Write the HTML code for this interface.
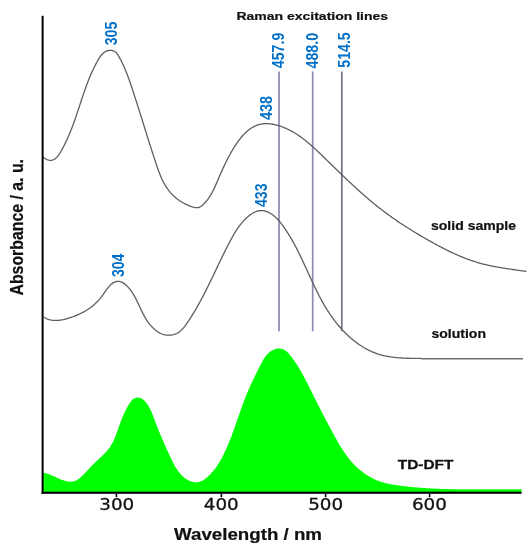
<!DOCTYPE html>
<html><head><meta charset="utf-8"><title>Absorbance spectra</title>
<style>html,body{margin:0;padding:0;background:#fff;width:532px;height:550px;overflow:hidden}svg{display:block}</style>
</head><body>
<svg width="532" height="550" viewBox="0 0 532 550"><path d="M43.15,472.76 L44.19,472.90 L45.24,473.11 L46.32,473.39 L47.41,473.72 L48.52,474.10 L49.65,474.53 L50.79,474.99 L51.95,475.48 L53.11,475.99 L54.29,476.52 L55.47,477.06 L56.66,477.60 L57.85,478.14 L59.04,478.66 L60.24,479.17 L61.43,479.65 L62.62,480.09 L63.81,480.50 L64.98,480.87 L66.15,481.17 L67.32,481.42 L68.47,481.61 L69.60,481.72 L70.72,481.74 L71.83,481.69 L72.91,481.53 L73.98,481.28 L75.02,480.92 L76.05,480.47 L77.05,479.93 L78.04,479.32 L79.01,478.63 L79.97,477.89 L80.90,477.09 L81.83,476.24 L82.74,475.36 L83.64,474.45 L84.53,473.52 L85.41,472.58 L86.27,471.64 L87.13,470.71 L87.99,469.78 L88.83,468.88 L89.68,467.99 L90.51,467.11 L91.35,466.25 L92.19,465.40 L93.02,464.55 L93.86,463.72 L94.71,462.89 L95.55,462.07 L96.41,461.26 L97.27,460.44 L98.14,459.63 L99.01,458.82 L99.89,458.00 L100.76,457.18 L101.64,456.36 L102.50,455.52 L103.36,454.68 L104.21,453.83 L105.05,452.96 L105.87,452.08 L106.67,451.19 L107.46,450.27 L108.22,449.34 L108.96,448.38 L109.68,447.41 L110.36,446.40 L111.02,445.37 L111.64,444.32 L112.23,443.24 L112.80,442.14 L113.35,441.03 L113.87,439.90 L114.37,438.76 L114.85,437.61 L115.32,436.46 L115.77,435.30 L116.21,434.14 L116.64,432.99 L117.06,431.84 L117.47,430.69 L117.87,429.56 L118.27,428.43 L118.67,427.31 L119.07,426.20 L119.47,425.09 L119.87,423.99 L120.28,422.89 L120.69,421.80 L121.10,420.70 L121.53,419.61 L121.97,418.51 L122.41,417.41 L122.87,416.31 L123.34,415.20 L123.83,414.09 L124.34,412.97 L124.87,411.84 L125.41,410.71 L125.98,409.56 L126.57,408.40 L127.18,407.23 L127.83,406.05 L128.50,404.88 L129.20,403.75 L129.94,402.66 L130.71,401.64 L131.51,400.69 L132.36,399.84 L133.25,399.11 L134.18,398.51 L135.16,398.06 L136.18,397.76 L137.23,397.62 L138.29,397.63 L139.35,397.79 L140.41,398.09 L141.43,398.53 L142.42,399.10 L143.36,399.79 L144.25,400.58 L145.10,401.43 L145.90,402.32 L146.66,403.25 L147.37,404.22 L148.05,405.22 L148.69,406.25 L149.29,407.30 L149.87,408.38 L150.42,409.49 L150.94,410.61 L151.44,411.74 L151.93,412.89 L152.40,414.05 L152.85,415.22 L153.30,416.39 L153.74,417.56 L154.17,418.74 L154.60,419.91 L155.04,421.08 L155.48,422.24 L155.92,423.39 L156.36,424.54 L156.80,425.68 L157.24,426.82 L157.69,427.96 L158.14,429.09 L158.59,430.21 L159.05,431.34 L159.50,432.46 L159.96,433.57 L160.42,434.68 L160.89,435.79 L161.35,436.90 L161.82,438.01 L162.29,439.11 L162.77,440.21 L163.24,441.31 L163.72,442.40 L164.20,443.50 L164.69,444.60 L165.17,445.69 L165.66,446.78 L166.16,447.88 L166.65,448.97 L167.15,450.07 L167.65,451.16 L168.15,452.26 L168.66,453.35 L169.17,454.45 L169.68,455.55 L170.20,456.65 L170.72,457.75 L171.24,458.85 L171.77,459.96 L172.30,461.06 L172.85,462.16 L173.40,463.25 L173.97,464.34 L174.55,465.42 L175.16,466.49 L175.78,467.54 L176.42,468.58 L177.09,469.60 L177.78,470.61 L178.51,471.59 L179.26,472.55 L180.04,473.49 L180.86,474.40 L181.72,475.28 L182.61,476.14 L183.55,476.96 L184.53,477.74 L185.54,478.49 L186.59,479.19 L187.66,479.83 L188.76,480.42 L189.87,480.94 L191.00,481.38 L192.14,481.74 L193.28,482.02 L194.43,482.21 L195.56,482.29 L196.69,482.27 L197.81,482.14 L198.91,481.92 L200.00,481.60 L201.07,481.20 L202.13,480.71 L203.17,480.15 L204.19,479.52 L205.20,478.83 L206.19,478.09 L207.15,477.29 L208.10,476.45 L209.02,475.58 L209.93,474.67 L210.81,473.74 L211.66,472.79 L212.49,471.83 L213.30,470.86 L214.08,469.88 L214.83,468.90 L215.57,467.91 L216.28,466.91 L216.98,465.90 L217.65,464.89 L218.31,463.87 L218.95,462.85 L219.57,461.82 L220.18,460.78 L220.77,459.74 L221.35,458.69 L221.92,457.64 L222.48,456.58 L223.02,455.52 L223.56,454.45 L224.09,453.37 L224.62,452.29 L225.13,451.21 L225.64,450.12 L226.13,449.03 L226.63,447.93 L227.11,446.83 L227.59,445.72 L228.06,444.61 L228.53,443.50 L228.99,442.39 L229.44,441.27 L229.89,440.14 L230.33,439.02 L230.77,437.89 L231.21,436.76 L231.64,435.63 L232.06,434.49 L232.49,433.35 L232.90,432.21 L233.32,431.07 L233.73,429.93 L234.14,428.78 L234.55,427.64 L234.96,426.49 L235.36,425.34 L235.77,424.19 L236.17,423.04 L236.57,421.89 L236.97,420.74 L237.37,419.59 L237.77,418.43 L238.16,417.28 L238.56,416.13 L238.96,414.98 L239.36,413.83 L239.77,412.68 L240.17,411.53 L240.57,410.38 L240.98,409.23 L241.39,408.08 L241.80,406.94 L242.21,405.80 L242.63,404.65 L243.05,403.51 L243.47,402.38 L243.90,401.24 L244.33,400.11 L244.77,398.98 L245.21,397.85 L245.65,396.72 L246.10,395.60 L246.56,394.48 L247.02,393.37 L247.48,392.25 L247.96,391.14 L248.44,390.04 L248.92,388.93 L249.41,387.83 L249.90,386.73 L250.40,385.64 L250.90,384.54 L251.40,383.45 L251.91,382.36 L252.43,381.27 L252.95,380.18 L253.47,379.09 L253.99,378.00 L254.52,376.91 L255.05,375.82 L255.58,374.73 L256.11,373.64 L256.65,372.55 L257.19,371.46 L257.73,370.37 L258.27,369.28 L258.82,368.19 L259.36,367.09 L259.91,365.99 L260.45,364.89 L261.01,363.80 L261.58,362.71 L262.16,361.63 L262.76,360.56 L263.38,359.51 L264.03,358.48 L264.71,357.48 L265.43,356.49 L266.19,355.54 L266.99,354.63 L267.84,353.75 L268.74,352.91 L269.69,352.11 L270.69,351.37 L271.74,350.69 L272.82,350.09 L273.93,349.57 L275.07,349.14 L276.22,348.82 L277.39,348.60 L278.55,348.51 L279.72,348.54 L280.87,348.70 L282.00,348.98 L283.09,349.36 L284.13,349.85 L285.13,350.44 L286.08,351.11 L287.00,351.86 L287.88,352.67 L288.73,353.54 L289.56,354.46 L290.36,355.41 L291.13,356.39 L291.89,357.39 L292.64,358.40 L293.37,359.41 L294.08,360.43 L294.79,361.45 L295.48,362.48 L296.16,363.51 L296.83,364.54 L297.49,365.58 L298.14,366.62 L298.78,367.66 L299.41,368.71 L300.03,369.76 L300.64,370.81 L301.25,371.86 L301.84,372.92 L302.43,373.98 L303.02,375.05 L303.59,376.11 L304.16,377.18 L304.73,378.25 L305.29,379.32 L305.85,380.39 L306.40,381.47 L306.95,382.54 L307.50,383.62 L308.04,384.70 L308.58,385.77 L309.12,386.85 L309.66,387.93 L310.20,389.02 L310.73,390.10 L311.27,391.18 L311.81,392.26 L312.35,393.34 L312.89,394.42 L313.43,395.51 L313.97,396.59 L314.51,397.67 L315.05,398.75 L315.60,399.83 L316.14,400.91 L316.69,402.00 L317.23,403.08 L317.78,404.16 L318.33,405.24 L318.88,406.32 L319.43,407.40 L319.98,408.48 L320.53,409.56 L321.09,410.64 L321.64,411.72 L322.20,412.80 L322.75,413.88 L323.31,414.96 L323.87,416.04 L324.43,417.11 L325.00,418.19 L325.56,419.27 L326.12,420.35 L326.69,421.42 L327.26,422.50 L327.83,423.57 L328.40,424.65 L328.97,425.72 L329.54,426.79 L330.12,427.87 L330.69,428.94 L331.27,430.01 L331.85,431.08 L332.43,432.15 L333.02,433.22 L333.60,434.29 L334.19,435.36 L334.77,436.43 L335.36,437.49 L335.96,438.56 L336.55,439.62 L337.15,440.68 L337.76,441.74 L338.37,442.79 L338.98,443.84 L339.60,444.88 L340.23,445.93 L340.86,446.96 L341.50,447.99 L342.15,449.02 L342.80,450.03 L343.46,451.05 L344.13,452.05 L344.82,453.05 L345.51,454.04 L346.21,455.02 L346.92,456.00 L347.64,456.96 L348.37,457.92 L349.11,458.86 L349.87,459.80 L350.64,460.72 L351.42,461.64 L352.22,462.54 L353.03,463.43 L353.85,464.31 L354.69,465.17 L355.55,466.03 L356.42,466.87 L357.31,467.70 L358.21,468.51 L359.13,469.31 L360.06,470.09 L361.01,470.86 L361.97,471.61 L362.95,472.34 L363.94,473.06 L364.94,473.76 L365.95,474.45 L366.98,475.11 L368.02,475.76 L369.07,476.38 L370.13,476.99 L371.20,477.58 L372.28,478.15 L373.38,478.69 L374.48,479.21 L375.59,479.72 L376.71,480.19 L377.83,480.65 L378.97,481.08 L380.11,481.49 L381.26,481.88 L382.42,482.24 L383.58,482.58 L384.75,482.89 L385.92,483.19 L387.10,483.47 L388.28,483.73 L389.47,483.97 L390.66,484.20 L391.85,484.42 L393.05,484.63 L394.25,484.82 L395.45,485.01 L396.65,485.18 L397.86,485.35 L399.06,485.52 L400.27,485.68 L401.47,485.83 L402.67,485.99 L403.88,486.13 L405.09,486.28 L406.29,486.41 L407.50,486.55 L408.70,486.68 L409.91,486.81 L411.12,486.93 L412.33,487.05 L413.53,487.16 L414.74,487.27 L415.95,487.38 L417.16,487.49 L418.37,487.59 L419.58,487.68 L420.79,487.78 L422.00,487.87 L423.21,487.95 L424.42,488.04 L425.63,488.12 L426.84,488.19 L428.05,488.27 L429.26,488.34 L430.47,488.41 L431.68,488.47 L432.89,488.53 L434.10,488.59 L435.32,488.65 L436.53,488.70 L437.74,488.75 L438.95,488.80 L440.16,488.85 L441.38,488.89 L442.59,488.93 L443.80,488.97 L445.02,489.01 L446.23,489.04 L447.44,489.07 L448.66,489.10 L449.87,489.13 L451.08,489.16 L452.30,489.18 L453.51,489.20 L454.73,489.23 L455.94,489.24 L457.15,489.26 L458.37,489.28 L459.58,489.29 L460.80,489.30 L462.01,489.31 L463.23,489.32 L464.44,489.33 L465.66,489.34 L466.87,489.34 L468.09,489.35 L469.30,489.35 L470.52,489.35 L471.73,489.35 L472.95,489.35 L474.16,489.35 L475.38,489.35 L476.59,489.35 L477.81,489.35 L479.02,489.34 L480.24,489.34 L481.45,489.34 L482.67,489.33 L483.88,489.32 L485.09,489.32 L486.31,489.31 L487.52,489.31 L488.74,489.30 L489.95,489.29 L491.17,489.29 L492.38,489.28 L493.60,489.28 L494.81,489.27 L496.03,489.26 L497.24,489.26 L498.45,489.25 L499.67,489.25 L500.88,489.24 L502.10,489.24 L503.31,489.24 L504.52,489.23 L505.74,489.23 L506.95,489.23 L508.16,489.23 L509.38,489.23 L510.59,489.23 L511.80,489.23 L513.02,489.23 L514.23,489.24 L515.44,489.24 L516.65,489.25 L517.86,489.26 L519.08,489.27 L520.29,489.28 L521.50,489.29 L521.5,493 L43,493 Z" fill="#00ff00"/>
<line x1="279.0" y1="71.5" x2="279.0" y2="331.2" stroke="#8a84ae" stroke-width="1.7"/>
<line x1="312.7" y1="71.5" x2="312.7" y2="331.2" stroke="#8c88b8" stroke-width="1.7"/>
<line x1="341.8" y1="71.5" x2="341.8" y2="331.2" stroke="#72708f" stroke-width="1.7"/>
<path d="M42.82,157.04 L43.92,157.87 L44.98,158.57 L46.00,159.15 L46.99,159.61 L47.93,159.96 L48.84,160.20 L49.72,160.34 L50.56,160.38 L51.37,160.33 L52.15,160.20 L52.90,159.98 L53.63,159.68 L54.32,159.31 L55.00,158.87 L55.65,158.37 L56.27,157.82 L56.88,157.21 L57.46,156.55 L58.03,155.85 L58.58,155.12 L59.12,154.35 L59.64,153.56 L60.15,152.74 L60.65,151.91 L61.13,151.06 L61.61,150.21 L62.08,149.36 L62.55,148.50 L63.00,147.65 L63.45,146.79 L63.90,145.93 L64.33,145.08 L64.76,144.22 L65.19,143.36 L65.61,142.50 L66.02,141.64 L66.43,140.77 L66.83,139.91 L67.22,139.05 L67.61,138.19 L68.00,137.32 L68.38,136.46 L68.76,135.59 L69.13,134.72 L69.49,133.86 L69.85,132.99 L70.21,132.12 L70.56,131.25 L70.91,130.38 L71.26,129.51 L71.60,128.64 L71.93,127.77 L72.27,126.90 L72.60,126.03 L72.92,125.16 L73.25,124.28 L73.57,123.41 L73.88,122.53 L74.20,121.66 L74.51,120.78 L74.82,119.91 L75.13,119.03 L75.43,118.16 L75.74,117.28 L76.04,116.40 L76.34,115.52 L76.63,114.64 L76.93,113.77 L77.22,112.89 L77.52,112.01 L77.81,111.13 L78.10,110.25 L78.39,109.37 L78.68,108.48 L78.97,107.60 L79.26,106.72 L79.55,105.84 L79.84,104.96 L80.13,104.08 L80.41,103.19 L80.70,102.31 L80.99,101.43 L81.28,100.55 L81.57,99.67 L81.87,98.78 L82.16,97.90 L82.45,97.02 L82.75,96.14 L83.04,95.26 L83.34,94.38 L83.64,93.49 L83.95,92.61 L84.25,91.73 L84.56,90.85 L84.87,89.97 L85.18,89.09 L85.49,88.21 L85.81,87.34 L86.13,86.46 L86.45,85.58 L86.78,84.70 L87.11,83.83 L87.44,82.95 L87.78,82.08 L88.12,81.20 L88.46,80.33 L88.81,79.46 L89.16,78.58 L89.52,77.71 L89.88,76.84 L90.25,75.97 L90.62,75.10 L90.99,74.24 L91.38,73.37 L91.76,72.50 L92.15,71.64 L92.55,70.78 L92.95,69.91 L93.36,69.05 L93.78,68.19 L94.20,67.33 L94.63,66.48 L95.06,65.62 L95.50,64.76 L95.95,63.91 L96.40,63.06 L96.86,62.21 L97.33,61.36 L97.81,60.51 L98.29,59.67 L98.79,58.84 L99.29,58.02 L99.82,57.22 L100.36,56.44 L100.91,55.70 L101.49,54.98 L102.09,54.30 L102.71,53.66 L103.35,53.06 L104.02,52.51 L104.73,52.01 L105.46,51.58 L106.22,51.20 L107.02,50.89 L107.85,50.65 L108.72,50.48 L109.63,50.39 L110.57,50.39 L111.52,50.47 L112.46,50.63 L113.38,50.89 L114.26,51.25 L115.07,51.70 L115.80,52.25 L116.46,52.89 L117.05,53.61 L117.59,54.38 L118.09,55.18 L118.58,56.00 L119.05,56.83 L119.52,57.66 L119.97,58.49 L120.42,59.33 L120.86,60.17 L121.29,61.01 L121.72,61.85 L122.14,62.70 L122.54,63.54 L122.95,64.39 L123.34,65.25 L123.73,66.10 L124.11,66.96 L124.49,67.82 L124.86,68.68 L125.22,69.55 L125.58,70.41 L125.94,71.28 L126.28,72.15 L126.63,73.02 L126.97,73.89 L127.30,74.76 L127.63,75.64 L127.96,76.51 L128.28,77.39 L128.60,78.27 L128.92,79.15 L129.23,80.03 L129.54,80.91 L129.85,81.79 L130.15,82.68 L130.46,83.56 L130.76,84.44 L131.06,85.33 L131.36,86.21 L131.65,87.10 L131.95,87.99 L132.24,88.87 L132.54,89.76 L132.83,90.65 L133.12,91.53 L133.42,92.42 L133.71,93.31 L134.00,94.20 L134.29,95.08 L134.57,95.97 L134.86,96.86 L135.15,97.75 L135.44,98.64 L135.72,99.53 L136.01,100.42 L136.29,101.31 L136.58,102.20 L136.86,103.09 L137.15,103.98 L137.43,104.87 L137.71,105.76 L138.00,106.65 L138.28,107.54 L138.56,108.43 L138.84,109.32 L139.12,110.21 L139.40,111.10 L139.68,112.00 L139.96,112.89 L140.24,113.78 L140.52,114.67 L140.80,115.56 L141.08,116.45 L141.36,117.35 L141.64,118.24 L141.92,119.13 L142.20,120.02 L142.48,120.92 L142.76,121.81 L143.04,122.70 L143.32,123.60 L143.60,124.49 L143.88,125.38 L144.15,126.27 L144.43,127.17 L144.71,128.06 L144.99,128.95 L145.27,129.85 L145.55,130.74 L145.83,131.63 L146.11,132.53 L146.39,133.42 L146.67,134.31 L146.95,135.21 L147.23,136.10 L147.51,136.99 L147.79,137.89 L148.07,138.78 L148.35,139.67 L148.64,140.57 L148.92,141.46 L149.20,142.35 L149.48,143.25 L149.77,144.14 L150.05,145.03 L150.33,145.93 L150.62,146.82 L150.90,147.71 L151.19,148.60 L151.47,149.50 L151.76,150.39 L152.04,151.28 L152.33,152.18 L152.62,153.07 L152.91,153.96 L153.20,154.85 L153.49,155.75 L153.78,156.64 L154.07,157.53 L154.36,158.42 L154.65,159.31 L154.94,160.20 L155.23,161.10 L155.53,161.99 L155.82,162.88 L156.12,163.77 L156.42,164.66 L156.72,165.55 L157.02,166.44 L157.32,167.32 L157.63,168.21 L157.94,169.09 L158.26,169.97 L158.58,170.84 L158.90,171.72 L159.23,172.59 L159.57,173.46 L159.91,174.32 L160.26,175.18 L160.62,176.04 L160.98,176.89 L161.35,177.73 L161.73,178.58 L162.12,179.41 L162.51,180.24 L162.92,181.07 L163.33,181.89 L163.76,182.70 L164.19,183.50 L164.64,184.30 L165.10,185.09 L165.57,185.88 L166.05,186.66 L166.55,187.42 L167.05,188.18 L167.57,188.94 L168.11,189.68 L168.66,190.41 L169.22,191.14 L169.80,191.85 L170.39,192.56 L171.00,193.25 L171.63,193.94 L172.27,194.61 L172.93,195.28 L173.61,195.93 L174.30,196.57 L175.02,197.20 L175.75,197.82 L176.50,198.42 L177.26,199.01 L178.04,199.59 L178.84,200.16 L179.65,200.71 L180.47,201.24 L181.30,201.76 L182.14,202.27 L182.99,202.76 L183.85,203.23 L184.71,203.69 L185.58,204.12 L186.45,204.54 L187.33,204.95 L188.20,205.33 L189.08,205.69 L189.96,206.04 L190.83,206.36 L191.70,206.66 L192.57,206.94 L193.43,207.20 L194.28,207.41 L195.13,207.58 L195.96,207.68 L196.79,207.72 L197.61,207.67 L198.42,207.54 L199.21,207.29 L199.99,206.94 L200.76,206.49 L201.50,205.97 L202.24,205.38 L202.95,204.75 L203.65,204.09 L204.33,203.42 L204.98,202.72 L205.62,202.01 L206.25,201.29 L206.85,200.55 L207.45,199.79 L208.02,199.02 L208.58,198.24 L209.12,197.44 L209.66,196.64 L210.17,195.82 L210.68,194.99 L211.17,194.16 L211.65,193.31 L212.12,192.46 L212.58,191.60 L213.03,190.74 L213.46,189.88 L213.89,189.00 L214.31,188.13 L214.73,187.25 L215.13,186.38 L215.53,185.50 L215.92,184.62 L216.30,183.75 L216.68,182.87 L217.06,182.00 L217.43,181.14 L217.80,180.27 L218.16,179.42 L218.52,178.57 L218.88,177.72 L219.24,176.89 L219.59,176.06 L219.95,175.23 L220.30,174.42 L220.65,173.60 L221.01,172.80 L221.36,171.99 L221.72,171.19 L222.08,170.39 L222.44,169.59 L222.80,168.80 L223.16,168.00 L223.53,167.21 L223.90,166.41 L224.28,165.62 L224.65,164.82 L225.04,164.02 L225.43,163.22 L225.82,162.42 L226.22,161.61 L226.63,160.79 L227.04,159.98 L227.46,159.15 L227.89,158.32 L228.32,157.49 L228.76,156.65 L229.21,155.80 L229.67,154.95 L230.14,154.10 L230.61,153.24 L231.10,152.38 L231.58,151.52 L232.08,150.66 L232.59,149.81 L233.10,148.95 L233.62,148.09 L234.15,147.24 L234.69,146.39 L235.23,145.55 L235.79,144.71 L236.35,143.87 L236.92,143.04 L237.50,142.22 L238.08,141.41 L238.68,140.61 L239.28,139.81 L239.89,139.03 L240.51,138.25 L241.13,137.49 L241.77,136.74 L242.41,136.01 L243.06,135.28 L243.72,134.58 L244.39,133.89 L245.07,133.21 L245.75,132.55 L246.44,131.91 L247.14,131.29 L247.85,130.69 L248.57,130.10 L249.30,129.54 L250.03,129.00 L250.78,128.48 L251.53,127.99 L252.29,127.51 L253.06,127.07 L253.84,126.64 L254.62,126.25 L255.42,125.88 L256.22,125.54 L257.03,125.22 L257.85,124.94 L258.68,124.69 L259.52,124.46 L260.37,124.27 L261.22,124.10 L262.08,123.96 L262.95,123.85 L263.82,123.76 L264.70,123.70 L265.58,123.67 L266.47,123.66 L267.36,123.67 L268.26,123.71 L269.16,123.77 L270.06,123.86 L270.97,123.97 L271.88,124.09 L272.78,124.24 L273.70,124.41 L274.61,124.60 L275.52,124.81 L276.43,125.04 L277.34,125.28 L278.25,125.54 L279.16,125.82 L280.06,126.12 L280.97,126.43 L281.87,126.75 L282.76,127.09 L283.66,127.44 L284.55,127.81 L285.43,128.19 L286.31,128.58 L287.18,128.99 L288.05,129.40 L288.91,129.82 L289.77,130.26 L290.61,130.70 L291.45,131.15 L292.28,131.61 L293.11,132.08 L293.93,132.56 L294.74,133.04 L295.54,133.54 L296.34,134.04 L297.13,134.54 L297.91,135.06 L298.69,135.58 L299.46,136.11 L300.23,136.65 L300.99,137.19 L301.75,137.74 L302.50,138.29 L303.24,138.85 L303.98,139.42 L304.72,139.99 L305.45,140.57 L306.18,141.15 L306.90,141.74 L307.62,142.33 L308.34,142.93 L309.05,143.53 L309.75,144.13 L310.46,144.74 L311.16,145.36 L311.86,145.97 L312.55,146.59 L313.24,147.22 L313.93,147.84 L314.62,148.47 L315.31,149.11 L315.99,149.74 L316.67,150.38 L317.35,151.02 L318.03,151.66 L318.70,152.30 L319.38,152.95 L320.05,153.59 L320.73,154.24 L321.40,154.89 L322.07,155.54 L322.74,156.19 L323.41,156.84 L324.09,157.49 L324.76,158.14 L325.43,158.79 L326.10,159.44 L326.77,160.10 L327.44,160.75 L328.11,161.40 L328.78,162.05 L329.45,162.71 L330.12,163.36 L330.79,164.01 L331.46,164.66 L332.13,165.32 L332.80,165.97 L333.48,166.62 L334.15,167.28 L334.82,167.93 L335.49,168.58 L336.16,169.23 L336.83,169.88 L337.51,170.54 L338.18,171.19 L338.85,171.84 L339.52,172.49 L340.20,173.14 L340.87,173.79 L341.55,174.44 L342.22,175.09 L342.90,175.74 L343.57,176.38 L344.25,177.03 L344.93,177.68 L345.61,178.32 L346.28,178.97 L346.96,179.61 L347.64,180.26 L348.32,180.90 L349.01,181.54 L349.69,182.18 L350.37,182.82 L351.05,183.46 L351.74,184.10 L352.42,184.74 L353.11,185.38 L353.79,186.01 L354.48,186.65 L355.17,187.28 L355.86,187.91 L356.55,188.55 L357.24,189.18 L357.93,189.80 L358.63,190.43 L359.32,191.06 L360.02,191.68 L360.71,192.31 L361.41,192.93 L362.11,193.55 L362.81,194.17 L363.51,194.79 L364.22,195.40 L364.92,196.02 L365.62,196.63 L366.33,197.24 L367.04,197.85 L367.75,198.46 L368.46,199.07 L369.17,199.67 L369.88,200.28 L370.60,200.88 L371.31,201.48 L372.03,202.07 L372.75,202.67 L373.47,203.26 L374.20,203.86 L374.92,204.44 L375.64,205.03 L376.37,205.62 L377.10,206.20 L377.83,206.78 L378.56,207.36 L379.30,207.94 L380.03,208.51 L380.77,209.09 L381.51,209.66 L382.25,210.22 L382.99,210.79 L383.74,211.35 L384.49,211.92 L385.23,212.47 L385.98,213.03 L386.73,213.59 L387.49,214.14 L388.24,214.69 L389.00,215.24 L389.76,215.78 L390.52,216.33 L391.28,216.87 L392.04,217.41 L392.80,217.95 L393.57,218.48 L394.34,219.02 L395.11,219.55 L395.88,220.08 L396.65,220.60 L397.42,221.13 L398.20,221.65 L398.97,222.18 L399.75,222.70 L400.53,223.21 L401.31,223.73 L402.09,224.25 L402.87,224.76 L403.66,225.27 L404.44,225.78 L405.23,226.28 L406.02,226.79 L406.80,227.29 L407.59,227.79 L408.39,228.29 L409.18,228.79 L409.97,229.29 L410.77,229.78 L411.56,230.28 L412.36,230.77 L413.16,231.26 L413.96,231.75 L414.76,232.23 L415.56,232.72 L416.36,233.20 L417.17,233.68 L417.97,234.16 L418.77,234.64 L419.58,235.12 L420.39,235.60 L421.20,236.07 L422.01,236.54 L422.82,237.01 L423.63,237.48 L424.44,237.95 L425.25,238.42 L426.06,238.89 L426.88,239.35 L427.69,239.81 L428.51,240.27 L429.32,240.73 L430.14,241.19 L430.96,241.65 L431.78,242.11 L432.60,242.56 L433.42,243.01 L434.24,243.47 L435.06,243.92 L435.88,244.36 L436.70,244.81 L437.53,245.25 L438.35,245.70 L439.18,246.14 L440.01,246.57 L440.83,247.01 L441.66,247.44 L442.49,247.87 L443.32,248.30 L444.16,248.73 L444.99,249.15 L445.82,249.57 L446.66,249.99 L447.50,250.41 L448.33,250.82 L449.17,251.23 L450.01,251.63 L450.86,252.04 L451.70,252.44 L452.54,252.83 L453.39,253.22 L454.24,253.61 L455.09,254.00 L455.94,254.38 L456.79,254.76 L457.64,255.14 L458.49,255.51 L459.35,255.87 L460.21,256.24 L461.07,256.60 L461.93,256.95 L462.79,257.30 L463.65,257.65 L464.52,257.99 L465.39,258.33 L466.25,258.66 L467.12,258.99 L468.00,259.31 L468.87,259.63 L469.75,259.95 L470.62,260.26 L471.50,260.56 L472.39,260.86 L473.27,261.15 L474.15,261.44 L475.04,261.73 L475.93,262.00 L476.82,262.28 L477.71,262.55 L478.61,262.81 L479.51,263.06 L480.41,263.31 L481.31,263.56 L482.21,263.80 L483.11,264.03 L484.02,264.26 L484.93,264.48 L485.84,264.70 L486.75,264.91 L487.67,265.12 L488.58,265.33 L489.50,265.53 L490.42,265.72 L491.33,265.91 L492.25,266.10 L493.18,266.28 L494.10,266.46 L495.02,266.64 L495.95,266.81 L496.87,266.98 L497.80,267.15 L498.72,267.31 L499.65,267.47 L500.58,267.63 L501.50,267.78 L502.43,267.93 L503.36,268.08 L504.29,268.23 L505.22,268.38 L506.15,268.52 L507.08,268.66 L508.01,268.80 L508.93,268.94 L509.86,269.08 L510.79,269.22 L511.72,269.35 L512.65,269.49 L513.57,269.62 L514.50,269.76 L515.42,269.89 L516.35,270.02 L517.27,270.16 L518.20,270.29 L519.12,270.42 L520.04,270.56 L520.96,270.69 L521.88,270.82 L522.79,270.96 L523.71,271.09 L524.62,271.23 L525.54,271.37 L526.45,271.51" fill="none" stroke="#5e5e5e" stroke-width="1.3"/>
<path d="M43.84,317.01 L44.58,317.52 L45.33,317.99 L46.11,318.41 L46.90,318.79 L47.72,319.13 L48.55,319.42 L49.39,319.68 L50.25,319.90 L51.13,320.08 L52.01,320.22 L52.91,320.33 L53.82,320.41 L54.74,320.46 L55.67,320.47 L56.61,320.45 L57.56,320.41 L58.51,320.33 L59.46,320.23 L60.43,320.11 L61.39,319.96 L62.36,319.79 L63.33,319.60 L64.30,319.38 L65.27,319.15 L66.24,318.90 L67.20,318.63 L68.17,318.35 L69.13,318.05 L70.08,317.74 L71.03,317.42 L71.97,317.08 L72.91,316.74 L73.84,316.39 L74.75,316.03 L75.66,315.67 L76.55,315.30 L77.44,314.92 L78.31,314.54 L79.18,314.15 L80.03,313.75 L80.87,313.35 L81.71,312.94 L82.53,312.52 L83.34,312.09 L84.15,311.65 L84.94,311.20 L85.72,310.75 L86.50,310.28 L87.27,309.80 L88.03,309.31 L88.78,308.81 L89.52,308.30 L90.25,307.77 L90.98,307.24 L91.69,306.68 L92.40,306.12 L93.11,305.54 L93.80,304.95 L94.49,304.34 L95.17,303.71 L95.84,303.07 L96.51,302.42 L97.17,301.75 L97.83,301.06 L98.47,300.35 L99.12,299.63 L99.75,298.88 L100.38,298.12 L101.01,297.34 L101.63,296.54 L102.24,295.72 L102.85,294.88 L103.46,294.03 L104.06,293.17 L104.67,292.31 L105.27,291.44 L105.88,290.59 L106.49,289.74 L107.10,288.91 L107.72,288.09 L108.34,287.31 L108.98,286.55 L109.62,285.83 L110.28,285.14 L110.94,284.50 L111.62,283.91 L112.32,283.37 L113.03,282.89 L113.76,282.48 L114.50,282.13 L115.26,281.84 L116.03,281.63 L116.81,281.48 L117.59,281.41 L118.38,281.40 L119.17,281.47 L119.96,281.61 L120.74,281.82 L121.51,282.11 L122.28,282.45 L123.05,282.86 L123.80,283.33 L124.54,283.85 L125.28,284.42 L126.00,285.03 L126.71,285.69 L127.41,286.38 L128.09,287.11 L128.76,287.86 L129.41,288.64 L130.05,289.44 L130.67,290.26 L131.27,291.09 L131.85,291.93 L132.42,292.77 L132.96,293.62 L133.48,294.47 L133.99,295.33 L134.48,296.18 L134.96,297.04 L135.42,297.90 L135.87,298.77 L136.31,299.63 L136.74,300.50 L137.17,301.36 L137.58,302.23 L137.99,303.10 L138.40,303.97 L138.80,304.83 L139.20,305.70 L139.61,306.57 L140.01,307.43 L140.41,308.30 L140.81,309.16 L141.22,310.02 L141.63,310.88 L142.05,311.73 L142.47,312.58 L142.90,313.42 L143.33,314.27 L143.77,315.10 L144.22,315.93 L144.68,316.76 L145.15,317.58 L145.63,318.39 L146.13,319.19 L146.63,319.99 L147.15,320.78 L147.68,321.56 L148.23,322.33 L148.79,323.09 L149.37,323.85 L149.97,324.59 L150.58,325.32 L151.21,326.04 L151.87,326.75 L152.54,327.45 L153.24,328.14 L153.95,328.81 L154.69,329.46 L155.44,330.09 L156.21,330.69 L157.00,331.27 L157.81,331.82 L158.63,332.33 L159.47,332.81 L160.33,333.25 L161.20,333.66 L162.09,334.01 L162.98,334.32 L163.89,334.59 L164.81,334.81 L165.74,334.98 L166.67,335.10 L167.61,335.18 L168.54,335.21 L169.48,335.20 L170.41,335.14 L171.33,335.04 L172.25,334.89 L173.15,334.70 L174.04,334.46 L174.92,334.18 L175.78,333.86 L176.62,333.49 L177.44,333.08 L178.24,332.62 L179.00,332.13 L179.75,331.59 L180.46,331.01 L181.15,330.39 L181.82,329.74 L182.47,329.07 L183.10,328.36 L183.72,327.64 L184.32,326.89 L184.90,326.12 L185.48,325.35 L186.04,324.56 L186.60,323.76 L187.15,322.96 L187.69,322.16 L188.24,321.35 L188.77,320.55 L189.31,319.74 L189.84,318.93 L190.36,318.12 L190.88,317.30 L191.40,316.49 L191.91,315.67 L192.42,314.85 L192.93,314.04 L193.43,313.21 L193.93,312.39 L194.43,311.57 L194.92,310.74 L195.41,309.92 L195.89,309.09 L196.37,308.26 L196.85,307.43 L197.33,306.60 L197.80,305.77 L198.27,304.93 L198.74,304.10 L199.20,303.26 L199.66,302.43 L200.12,301.59 L200.58,300.75 L201.03,299.91 L201.48,299.07 L201.93,298.23 L202.38,297.38 L202.82,296.54 L203.26,295.69 L203.70,294.85 L204.14,294.00 L204.57,293.15 L205.01,292.31 L205.44,291.46 L205.87,290.61 L206.30,289.76 L206.73,288.91 L207.15,288.05 L207.57,287.20 L208.00,286.35 L208.42,285.50 L208.84,284.64 L209.25,283.79 L209.67,282.93 L210.09,282.08 L210.50,281.22 L210.92,280.37 L211.33,279.51 L211.74,278.66 L212.15,277.80 L212.57,276.94 L212.98,276.08 L213.39,275.23 L213.80,274.37 L214.20,273.51 L214.61,272.65 L215.02,271.80 L215.43,270.94 L215.84,270.08 L216.25,269.22 L216.66,268.36 L217.06,267.51 L217.47,266.65 L217.88,265.79 L218.29,264.93 L218.70,264.07 L219.11,263.22 L219.52,262.36 L219.93,261.50 L220.34,260.65 L220.76,259.79 L221.17,258.93 L221.58,258.08 L222.00,257.22 L222.41,256.37 L222.83,255.51 L223.25,254.66 L223.67,253.81 L224.09,252.95 L224.51,252.10 L224.94,251.25 L225.36,250.40 L225.79,249.55 L226.22,248.70 L226.65,247.85 L227.08,247.00 L227.51,246.15 L227.95,245.31 L228.38,244.46 L228.82,243.62 L229.27,242.77 L229.71,241.93 L230.16,241.08 L230.60,240.24 L231.06,239.40 L231.51,238.56 L231.97,237.73 L232.43,236.89 L232.90,236.06 L233.37,235.23 L233.84,234.40 L234.33,233.58 L234.82,232.76 L235.31,231.94 L235.82,231.13 L236.33,230.32 L236.85,229.52 L237.38,228.72 L237.92,227.93 L238.48,227.14 L239.04,226.36 L239.61,225.59 L240.19,224.83 L240.79,224.07 L241.40,223.32 L242.02,222.57 L242.66,221.84 L243.31,221.11 L243.98,220.40 L244.66,219.69 L245.36,218.99 L246.07,218.30 L246.80,217.63 L247.54,216.97 L248.30,216.32 L249.07,215.70 L249.85,215.10 L250.65,214.53 L251.45,213.98 L252.27,213.46 L253.09,212.98 L253.92,212.53 L254.76,212.12 L255.61,211.75 L256.46,211.43 L257.32,211.15 L258.18,210.92 L259.04,210.74 L259.91,210.61 L260.78,210.54 L261.65,210.53 L262.52,210.57 L263.39,210.67 L264.25,210.83 L265.11,211.03 L265.97,211.29 L266.82,211.59 L267.67,211.93 L268.51,212.31 L269.34,212.74 L270.15,213.20 L270.96,213.69 L271.76,214.21 L272.54,214.76 L273.30,215.34 L274.05,215.94 L274.79,216.57 L275.51,217.21 L276.21,217.87 L276.89,218.55 L277.56,219.24 L278.22,219.95 L278.86,220.67 L279.49,221.41 L280.11,222.16 L280.72,222.91 L281.32,223.68 L281.91,224.45 L282.49,225.23 L283.06,226.02 L283.62,226.81 L284.18,227.61 L284.73,228.41 L285.28,229.21 L285.82,230.01 L286.35,230.82 L286.88,231.62 L287.40,232.43 L287.92,233.25 L288.43,234.06 L288.94,234.88 L289.44,235.70 L289.94,236.52 L290.43,237.35 L290.92,238.17 L291.41,239.00 L291.88,239.83 L292.36,240.66 L292.83,241.50 L293.30,242.33 L293.76,243.17 L294.22,244.01 L294.67,244.85 L295.12,245.69 L295.57,246.54 L296.02,247.38 L296.46,248.23 L296.90,249.08 L297.33,249.92 L297.76,250.78 L298.19,251.63 L298.62,252.48 L299.04,253.33 L299.46,254.19 L299.88,255.05 L300.30,255.90 L300.71,256.76 L301.12,257.62 L301.54,258.48 L301.94,259.34 L302.35,260.20 L302.76,261.06 L303.16,261.92 L303.56,262.79 L303.96,263.65 L304.36,264.51 L304.76,265.38 L305.16,266.24 L305.56,267.11 L305.96,267.97 L306.35,268.83 L306.75,269.70 L307.14,270.56 L307.54,271.43 L307.93,272.29 L308.33,273.16 L308.72,274.02 L309.12,274.89 L309.52,275.75 L309.91,276.62 L310.31,277.48 L310.71,278.34 L311.10,279.20 L311.50,280.07 L311.90,280.93 L312.30,281.79 L312.71,282.65 L313.11,283.51 L313.52,284.37 L313.92,285.22 L314.33,286.08 L314.74,286.94 L315.16,287.79 L315.57,288.64 L315.99,289.50 L316.41,290.35 L316.83,291.20 L317.25,292.05 L317.68,292.89 L318.11,293.74 L318.54,294.59 L318.97,295.43 L319.41,296.27 L319.85,297.11 L320.30,297.95 L320.74,298.78 L321.20,299.62 L321.65,300.45 L322.11,301.28 L322.57,302.11 L323.04,302.94 L323.51,303.77 L323.99,304.59 L324.46,305.41 L324.95,306.23 L325.44,307.05 L325.93,307.86 L326.43,308.67 L326.93,309.48 L327.44,310.29 L327.95,311.09 L328.47,311.90 L328.99,312.69 L329.52,313.49 L330.05,314.29 L330.59,315.08 L331.14,315.87 L331.69,316.65 L332.25,317.43 L332.81,318.21 L333.38,318.99 L333.95,319.76 L334.53,320.53 L335.12,321.29 L335.71,322.05 L336.30,322.81 L336.90,323.56 L337.51,324.31 L338.12,325.05 L338.74,325.79 L339.37,326.52 L340.00,327.25 L340.63,327.97 L341.27,328.69 L341.92,329.40 L342.57,330.11 L343.22,330.81 L343.89,331.50 L344.55,332.19 L345.23,332.87 L345.90,333.55 L346.59,334.22 L347.28,334.88 L347.97,335.54 L348.67,336.18 L349.37,336.83 L350.08,337.46 L350.80,338.09 L351.52,338.71 L352.25,339.32 L352.98,339.93 L353.71,340.52 L354.46,341.11 L355.20,341.69 L355.96,342.27 L356.71,342.83 L357.48,343.39 L358.24,343.93 L359.02,344.47 L359.79,345.00 L360.58,345.52 L361.37,346.03 L362.16,346.53 L362.96,347.02 L363.76,347.50 L364.57,347.97 L365.38,348.43 L366.20,348.88 L367.03,349.33 L367.86,349.76 L368.69,350.18 L369.53,350.58 L370.37,350.98 L371.22,351.37 L372.08,351.75 L372.94,352.11 L373.80,352.46 L374.67,352.80 L375.54,353.13 L376.42,353.45 L377.30,353.76 L378.19,354.05 L379.09,354.33 L379.98,354.60 L380.89,354.86 L381.79,355.10 L382.71,355.34 L383.62,355.56 L384.54,355.77 L385.47,355.97 L386.40,356.16 L387.33,356.34 L388.26,356.50 L389.20,356.66 L390.15,356.81 L391.09,356.96 L392.04,357.09 L392.99,357.21 L393.95,357.33 L394.90,357.43 L395.86,357.53 L396.83,357.63 L397.79,357.71 L398.75,357.79 L399.72,357.86 L400.69,357.93 L401.66,357.99 L402.64,358.05 L403.61,358.10 L404.58,358.14 L405.56,358.18 L406.54,358.21 L407.52,358.25 L408.49,358.27 L409.47,358.30 L410.45,358.32 L411.43,358.34 L412.41,358.35 L413.39,358.36 L414.37,358.37 L415.35,358.38 L416.32,358.39 L417.30,358.39 L418.28,358.40 L419.25,358.40 L420.23,358.41 L421.20,358.41" fill="none" stroke="#5e5e5e" stroke-width="1.3"/>
<line x1="421" y1="358.8" x2="523" y2="358.8" stroke="#707070" stroke-width="1.6"/>
<rect x="41.6" y="15.8" width="2" height="478" fill="#000"/>
<rect x="41.6" y="491.7" width="479.9" height="2.1" fill="#000"/>
<rect x="115.6" y="494" width="1.6" height="3" fill="#000"/>
<rect x="220.6" y="494" width="1.6" height="3" fill="#000"/>
<rect x="324.8" y="494" width="1.6" height="3" fill="#000"/>
<rect x="428.8" y="494" width="1.6" height="3" fill="#000"/>
<text x="116.8" y="510.2" font-family="DejaVu Sans" font-size="16.4" text-anchor="middle" fill="#111" stroke="#111" stroke-width="0.3" textLength="35" lengthAdjust="spacingAndGlyphs">300</text>
<text x="221.3" y="510.2" font-family="DejaVu Sans" font-size="16.4" text-anchor="middle" fill="#111" stroke="#111" stroke-width="0.3" textLength="35" lengthAdjust="spacingAndGlyphs">400</text>
<text x="325.7" y="510.2" font-family="DejaVu Sans" font-size="16.4" text-anchor="middle" fill="#111" stroke="#111" stroke-width="0.3" textLength="35" lengthAdjust="spacingAndGlyphs">500</text>
<text x="429.4" y="510.2" font-family="DejaVu Sans" font-size="16.4" text-anchor="middle" fill="#111" stroke="#111" stroke-width="0.3" textLength="35" lengthAdjust="spacingAndGlyphs">600</text>
<text x="236.5" y="19.6" font-family="Liberation Sans" font-weight="bold" font-size="11" fill="#111" stroke="#111" stroke-width="0.2" textLength="151.5" lengthAdjust="spacingAndGlyphs">Raman excitation lines</text>
<text x="431" y="229.7" font-family="Liberation Sans" font-weight="bold" font-size="12.2" fill="#111" stroke="#111" stroke-width="0.2" textLength="85" lengthAdjust="spacingAndGlyphs">solid sample</text>
<text x="431.5" y="337.9" font-family="Liberation Sans" font-weight="bold" font-size="12.2" fill="#111" stroke="#111" stroke-width="0.2" textLength="54.5" lengthAdjust="spacingAndGlyphs">solution</text>
<text x="397.8" y="469.1" font-family="Liberation Sans" font-weight="bold" font-size="13.3" fill="#111" stroke="#111" stroke-width="0.3" textLength="55.6" lengthAdjust="spacingAndGlyphs">TD-DFT</text>
<text x="174" y="539.5" font-family="Liberation Sans" font-weight="bold" font-size="15.6" fill="#111" stroke="#111" stroke-width="0.2" textLength="148" lengthAdjust="spacingAndGlyphs">Wavelength / nm</text>
<text transform="translate(22.6,295.5) scale(1.18,1) rotate(-90)" x="0" y="0" font-family="Liberation Sans" font-weight="bold" font-size="15.4" fill="#111" stroke="#111" stroke-width="0.2" textLength="136.5" lengthAdjust="spacingAndGlyphs">Absorbance / a. u.</text>
<text transform="translate(116.8,45.3) scale(1.18,1) rotate(-90)" x="0" y="0" font-family="Liberation Sans" font-weight="bold" font-size="13.7" fill="#0070c8" textLength="23.6" lengthAdjust="spacingAndGlyphs">305</text>
<text transform="translate(271.8,120) scale(1.18,1) rotate(-90)" x="0" y="0" font-family="Liberation Sans" font-weight="bold" font-size="13.7" fill="#0070c8" textLength="24.1" lengthAdjust="spacingAndGlyphs">438</text>
<text transform="translate(124.1,277) scale(1.18,1) rotate(-90)" x="0" y="0" font-family="Liberation Sans" font-weight="bold" font-size="13.7" fill="#0070c8" textLength="23.4" lengthAdjust="spacingAndGlyphs">304</text>
<text transform="translate(266.5,207) scale(1.18,1) rotate(-90)" x="0" y="0" font-family="Liberation Sans" font-weight="bold" font-size="13.7" fill="#0070c8" textLength="23.6" lengthAdjust="spacingAndGlyphs">433</text>
<text transform="translate(284.1,68.2) scale(1.18,1) rotate(-90)" x="0" y="0" font-family="Liberation Sans" font-weight="bold" font-size="13.7" fill="#0070c8" textLength="35.5" lengthAdjust="spacingAndGlyphs">457.9</text>
<text transform="translate(317.8,68.6) scale(1.18,1) rotate(-90)" x="0" y="0" font-family="Liberation Sans" font-weight="bold" font-size="13.7" fill="#0070c8" textLength="35.9" lengthAdjust="spacingAndGlyphs">488.0</text>
<text transform="translate(350.3,67.7) scale(1.18,1) rotate(-90)" x="0" y="0" font-family="Liberation Sans" font-weight="bold" font-size="13.7" fill="#0070c8" textLength="35.4" lengthAdjust="spacingAndGlyphs">514.5</text></svg>
</body></html>
